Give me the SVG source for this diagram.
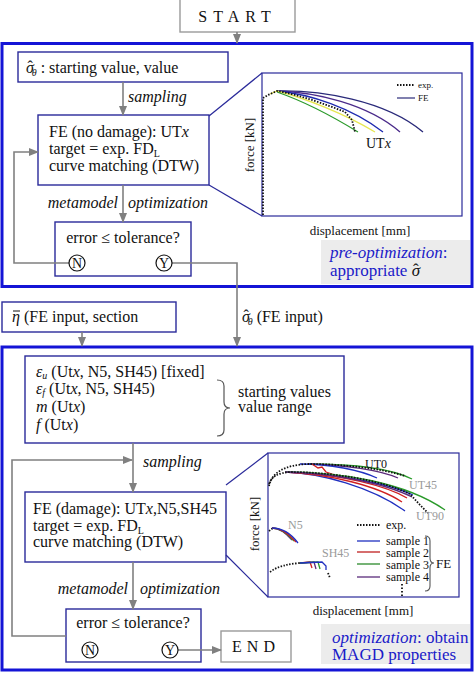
<svg xmlns="http://www.w3.org/2000/svg" width="474" height="673" viewBox="0 0 474 673" font-family="Liberation Serif, Times New Roman, DejaVu Serif, serif">
<defs>
<style>
text{font-family:'Liberation Serif','Times New Roman','DejaVu Serif',serif;fill:#111}
.t{font-size:16px}
.it{font-style:italic}
.sm{font-size:12px}
.xs{font-size:9px}
.frame{fill:none;stroke:#1414d6;stroke-width:3}
.box{fill:#fff;stroke:#2a2a9a;stroke-width:1.4}
.gbox{fill:#fff;stroke:#9a9a9a;stroke-width:1.4}
.conn{fill:none;stroke:#808080;stroke-width:1.6}
.zoom{fill:none;stroke:#2a2a9a;stroke-width:1.2}
.circ{fill:#fff;stroke:#111;stroke-width:1.2}
.note{fill:#ececec}
.blue{fill:#1a1ac8}
.gray{fill:#9a9a9a}
.exp{fill:none;stroke:#111;stroke-width:1.8;stroke-dasharray:1.5 1.5}
.c{fill:none;stroke-width:1.3}
</style>
<marker id="ah" markerWidth="10" markerHeight="8" refX="9" refY="4" orient="auto" markerUnits="userSpaceOnUse">
<path d="M0,0 L10,4 L0,8 Z" fill="#808080"/>
</marker>
</defs>

<rect class="frame" x="2" y="43.5" width="470" height="243"/>
<rect class="frame" x="2" y="347" width="470" height="323"/>

<g id="start">
<rect class="gbox" x="180" y="-2" width="115" height="34"/>
<text class="t" x="237.5" y="22" text-anchor="middle" letter-spacing="6">START</text>
</g>

<g id="sigma-box">
<rect class="box" x="18" y="52" width="210" height="30"/>
<text class="t" x="26" y="73"><tspan class="it">σ</tspan><tspan dx="-6.5" dy="-1">ˆ</tspan><tspan class="it" font-size="10" dx="-1" dy="4">θ</tspan><tspan dy="-3"> : starting value, value</tspan></text>
</g>

<g id="fe1">
<rect class="box" x="38" y="115" width="171" height="70"/>
<text class="t" x="49" y="137">FE (no damage): UT<tspan class="it">x</tspan></text>
<text class="t" x="49" y="154">target = exp. FD<tspan font-size="10" dy="3">L</tspan></text>
<text class="t" x="49" y="171">curve matching (DTW)</text>
</g>

<g id="err1">
<rect class="box" x="55" y="222" width="136" height="54"/>
<text class="t" x="123" y="243" text-anchor="middle">error ≤ tolerance?</text>
</g>

<g id="chart1">
<rect class="zoom" x="262" y="73" width="200" height="143"/>
<text font-size="13" transform="translate(254,145) rotate(-90)" text-anchor="middle">force [kN]</text>
<text font-size="13" x="360" y="235" text-anchor="middle">displacement [mm]</text>
<path class="c" stroke="#2a2a7a" d="M277,91 C320,90 385,100 423,132"/>
<path class="c" stroke="#4a2a8a" d="M277,91 C315,92 368,104 400,132"/>
<path class="c" stroke="#1e2ab0" d="M277,91 C310,94 352,108 383,132"/>
<path class="c" stroke="#e6e650" stroke-width="1.8" d="M270,94 L277,91 C305,98 345,114 375,132"/>
<path class="c" stroke="#2a9a2a" d="M277,92 C300,100 332,116 358,132"/>
<path class="exp" d="M263,215 L263,98 L268,95 L277,91 C300,95 325,104 345,112 L352,120 L355,132"/>
<line x1="397" y1="85" x2="415" y2="85" class="exp"/>
<line x1="397" y1="98" x2="415" y2="98" stroke="#2a2a7a" stroke-width="1.2"/>
<text class="xs" x="418" y="88">exp.</text>
<text class="xs" x="418" y="101">FE</text>
<text font-size="14" x="366" y="148">UT<tspan class="it">x</tspan></text>
</g>

<g id="note1">
<rect class="note" x="321" y="240" width="149" height="44"/>
<text class="blue" font-size="17" x="330" y="258"><tspan class="it">pre-optimization</tspan>:</text>
<text class="blue" font-size="17" x="330" y="276">appropriate <tspan class="it" fill="#111">σ</tspan><tspan fill="#111" dx="-7" dy="-1">ˆ</tspan></text>
</g>

<g id="eta-box">
<rect class="box" x="2" y="302" width="174" height="30"/>
<text class="t" x="12" y="322"><tspan class="it">η</tspan> (FE input, section</text>
<line x1="13" y1="311" x2="20" y2="311" stroke="#111" stroke-width="1"/>
</g>

<g id="sigma-input-label">
<text class="t" x="242" y="322"><tspan class="it">σ</tspan><tspan dx="-6.5" dy="-1">ˆ</tspan><tspan class="it" font-size="10" dx="-1" dy="4">θ</tspan><tspan dy="-3"> (FE input)</tspan></text>
</g>

<g id="params">
<rect class="box" x="25" y="356" width="319" height="87"/>
<text class="t" x="36" y="377"><tspan class="it">ε</tspan><tspan class="it" font-size="10" dy="2">u</tspan><tspan dy="-2"> (Ut</tspan><tspan class="it">x</tspan>, N5, SH45) [fixed]</text>
<text class="t" x="36" y="394"><tspan class="it">ε</tspan><tspan class="it" font-size="10" dy="2">f</tspan><tspan dy="-2"> (Ut</tspan><tspan class="it">x</tspan>, N5, SH45)</text>
<text class="t" x="36" y="412"><tspan class="it">m</tspan> (Ut<tspan class="it">x</tspan>)</text>
<text class="t" x="36" y="430"><tspan class="it">f</tspan> (Ut<tspan class="it">x</tspan>)</text>
<path fill="none" stroke="#555" stroke-width="1.2" d="M217,380 Q224,380 224,386 L224,402 Q224,408 230,408 Q224,408 224,414 L224,430 Q224,436 217,436"/>
<text class="t" x="238" y="397">starting values</text>
<text class="t" x="238" y="412">value range</text>
</g>

<g id="fe2">
<rect class="box" x="25" y="492" width="201" height="70"/>
<text class="t" x="33" y="514">FE (damage): UT<tspan class="it">x</tspan>,N5,SH45</text>
<text class="t" x="33" y="531">target = exp. FD<tspan font-size="10" dy="3">L</tspan></text>
<text class="t" x="33" y="547">curve matching (DTW)</text>
</g>

<g id="err2">
<rect class="box" x="66" y="609" width="135" height="53"/>
<text class="t" x="133" y="628" text-anchor="middle">error ≤ tolerance?</text>
</g>

<g id="end">
<rect class="gbox" x="221" y="631" width="70" height="31"/>
<text class="t" x="256" y="652" text-anchor="middle" letter-spacing="5">END</text>
</g>

<g id="chart2">
<rect class="zoom" x="268" y="453" width="191" height="144"/>
<text font-size="13" transform="translate(259,524) rotate(-90)" text-anchor="middle">force [kN]</text>
<text font-size="13" x="363" y="615" text-anchor="middle">displacement [mm]</text>
<path class="c" stroke="#2a9a2a" d="M308,464 C350,464 390,468 412,479"/>
<path class="c" stroke="#5a2a7a" d="M308,464 C345,465 380,470 398,478"/>
<path class="c" stroke="#2030c0" d="M300,464 C330,464 360,470 377,478"/>
<path class="c" stroke="#d02020" d="M312,464 L318,468 L322,467 L326,472 L332,474 L338,477"/>
<path class="exp" d="M269,486 C272,472 285,465 308,464 C340,464 380,468 405,476"/>
<path class="c" stroke="#2030c0" d="M285,472 C320,473 372,487 405,511"/>
<path class="c" stroke="#2030c0" d="M285,472 C330,473 385,482 413,495"/>
<path class="c" stroke="#d02020" d="M285,472 C330,474 378,486 402,502"/>
<path class="c" stroke="#d02020" d="M300,473 C340,475 385,485 407,498"/>
<path class="c" stroke="#2a9a2a" d="M285,472 C340,472 405,482 445,510"/>
<path class="c" stroke="#5a2a7a" d="M285,472 C330,473 382,482 412,497"/>
<path class="exp" d="M269,484 C272,476 278,473 290,472 C330,472 382,480 410,494 L420,505 L428,513"/>
<text class="sm" x="365" y="468">UT0</text>
<text class="sm gray" x="409" y="489">UT45</text>
<text class="sm gray" x="416" y="520">UT90</text>
<path class="exp" stroke="#999" d="M269,531 L273,528"/>
<path class="c" stroke="#5a2a7a" d="M272,528 C280,528 286,533 292,540"/>
<path class="c" stroke="#2a9a2a" d="M272,528 C281,528 288,534 294,541"/>
<path class="c" stroke="#d02020" d="M272,528 C282,528 290,535 296,542"/>
<path class="c" stroke="#2030c0" d="M272,528 C283,528 292,535 298,543"/>
<text class="sm gray" x="288" y="529">N5</text>
<path class="exp" stroke="#aaa" d="M270,572 C278,566 288,564 300,563"/>
<path class="c" stroke="#d02020" d="M300,563 L310,562 L312,568"/>
<path class="c" stroke="#5a2a7a" d="M300,563 L314,562 L316,569"/>
<path class="c" stroke="#2a9a2a" d="M300,563 L318,562 L320,569"/>
<path class="c" stroke="#2030c0" d="M300,563 L322,562 L326,566 L326,570"/>
<path class="exp" stroke="#e0a050" d="M328,573 L330,578"/>
<text class="sm gray" x="322" y="557">SH45</text>
<line x1="357" y1="525" x2="380" y2="525" class="exp"/>
<line x1="357" y1="541" x2="380" y2="541" stroke="#2030c0" stroke-width="1.3"/>
<line x1="357" y1="552" x2="380" y2="552" stroke="#c02020" stroke-width="1.3"/>
<line x1="357" y1="564" x2="380" y2="564" stroke="#2a8a2a" stroke-width="1.3"/>
<line x1="357" y1="577" x2="380" y2="577" stroke="#5a2a7a" stroke-width="1.3"/>
<text class="sm" x="386" y="529">exp.</text>
<text class="sm" x="386" y="545">sample 1</text>
<text class="sm" x="386" y="557">sample 2</text>
<text class="sm" x="386" y="569">sample 3</text>
<text class="sm" x="386" y="581">sample 4</text>
<line x1="402" y1="584" x2="402" y2="596" stroke="#111" stroke-width="1.8" stroke-dasharray="1.5 2"/>
<path fill="none" stroke="#555" stroke-width="1.1" d="M425,536 Q430,536 430,541 L430,558 Q430,563 434,563 Q430,563 430,568 L430,586 Q430,591 425,591"/>
<text font-size="13" x="436" y="568">FE</text>
</g>

<g id="note2">
<rect class="note" x="321" y="624" width="149" height="40"/>
<text class="blue" font-size="17" x="332" y="643"><tspan class="it">optimization</tspan>: obtain</text>
<text class="blue" font-size="17" x="332" y="660">MAGD properties</text>
</g>

<g id="connectors">
<line class="conn" x1="237" y1="32" x2="237" y2="43" marker-end="url(#ah)"/>
<line class="conn" x1="123" y1="82" x2="123" y2="115" marker-end="url(#ah)"/>
<line class="conn" x1="123" y1="185" x2="123" y2="222" marker-end="url(#ah)"/>
<path class="conn" d="M70,263 H14 V152 H38" marker-end="url(#ah)"/>
<path class="conn" d="M172,263 H237 V346" marker-end="url(#ah)"/>
<line class="conn" x1="82" y1="332" x2="82" y2="346" marker-end="url(#ah)"/>
<line class="conn" x1="133" y1="443" x2="133" y2="492" marker-end="url(#ah)"/>
<line class="conn" x1="133" y1="562" x2="133" y2="609" marker-end="url(#ah)"/>
<path class="conn" d="M66,636 H12 V460 H132" marker-end="url(#ah)"/>
<line class="conn" x1="178" y1="650" x2="221" y2="650" marker-end="url(#ah)"/>
<line class="zoom" x1="209" y1="116" x2="262" y2="73"/>
<line class="zoom" x1="209" y1="185" x2="262" y2="216"/>
<line class="zoom" x1="226" y1="485" x2="268" y2="453"/>
<line class="zoom" x1="226" y1="555" x2="268" y2="597"/>
<text class="t it" x="128" y="102">sampling</text>
<text class="t it" x="118" y="208" text-anchor="end">metamodel</text>
<text class="t it" x="128" y="208">optimization</text>
<text class="t it" x="143" y="467">sampling</text>
<text class="t it" x="128" y="594" text-anchor="end">metamodel</text>
<text class="t it" x="140" y="594">optimization</text>
</g>

<g id="decisions">
<circle class="circ" cx="77" cy="263" r="8"/>
<text font-size="14" x="77" y="268" text-anchor="middle">N</text>
<circle class="circ" cx="164" cy="263" r="8"/>
<text font-size="14" x="164" y="268" text-anchor="middle">Y</text>
<circle class="circ" cx="90" cy="650" r="8"/>
<text font-size="14" x="90" y="655" text-anchor="middle">N</text>
<circle class="circ" cx="170" cy="650" r="8"/>
<text font-size="14" x="170" y="655" text-anchor="middle">Y</text>
</g>
</svg>
